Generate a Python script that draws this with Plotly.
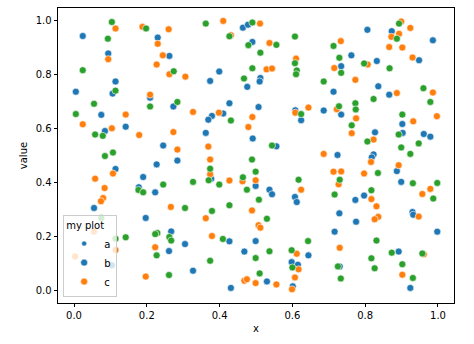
import plotly.graph_objects as go

blue_x = [0.024,0.230,0.094,0.262,0.114,0.005,0.106,0.209,0.273,0.075,0.142,0.085,0.245,
          0.464,0.478,0.490,0.399,0.374,0.512,0.510,0.476,0.427,0.507,0.410,0.379,0.369,0.608,0.624,0.686,0.362,0.491,0.556,
          0.806,0.873,0.986,0.762,0.948,0.832,0.734,0.836,0.713,0.866,0.734,0.902,0.827,0.903,0.961,0.979,0.724,0.823,0.818,
          0.284,0.227,0.114,0.190,0.178,0.223,0.055,0.197,0.267,0.305,0.261,0.104,
          0.377,0.499,0.537,0.544,0.607,0.612,0.427,0.499,0.468,0.644,0.598,0.615,0.327,0.530,0.601,0.431,
          0.887,0.899,0.797,0.773,0.729,0.930,0.932,0.775,0.716,0.998,0.892,0.730,0.924]
blue_y = [0.944,0.938,0.879,0.870,0.775,0.737,0.730,0.715,0.682,0.651,0.607,0.591,0.537,
          0.975,0.986,0.922,0.812,0.777,0.788,0.775,0.755,0.694,0.680,0.656,0.647,0.633,0.668,0.631,0.667,0.584,0.563,0.534,
          0.967,0.962,0.928,0.872,0.854,0.851,0.832,0.757,0.737,0.726,0.652,0.617,0.586,0.584,0.580,0.570,0.502,0.504,0.493,
          0.481,0.467,0.450,0.420,0.382,0.363,0.305,0.268,0.218,0.171,0.145,0.092,
          0.414,0.387,0.373,0.356,0.346,0.327,0.181,0.182,0.143,0.129,0.104,0.094,0.072,0.032,0.014,0.008,
          0.442,0.402,0.351,0.335,0.285,0.290,0.280,0.254,0.217,0.217,0.143,0.088,0.008]

orange_x = [0.114,0.188,0.260,0.230,0.094,0.244,0.227,0.262,0.306,0.209,0.142,0.327,0.024,0.104,0.273,0.179,0.284,
            0.410,0.511,0.431,0.537,0.610,0.529,0.544,0.398,0.490,0.479,0.608,0.644,0.369,0.686,
            0.899,0.924,0.872,0.893,0.733,0.866,0.902,0.930,0.807,0.715,0.773,0.887,0.986,0.722,0.775,0.932,0.997,0.763,0.823,0.816,
            0.107,0.058,0.084,0.080,0.074,0.266,0.055,0.223,0.114,0.003,0.197,
            0.374,0.374,0.427,0.463,0.499,0.624,0.489,0.362,0.507,0.512,0.379,0.612,0.617,0.607,0.468,0.475,0.499,0.556,0.599,
            0.713,0.734,0.727,0.797,0.892,0.979,0.957,0.817,0.831,0.836,0.826,0.947,0.730,0.961,0.902]
orange_y = [0.972,0.978,0.969,0.915,0.858,0.872,0.838,0.802,0.793,0.726,0.652,0.662,0.616,0.601,0.587,0.576,0.522,
            1.000,0.990,0.947,0.918,0.860,0.820,0.823,0.659,0.643,0.606,0.659,0.678,0.533,0.506,
            0.998,0.974,0.941,0.952,0.925,0.903,0.901,0.864,0.838,0.825,0.781,0.732,0.734,0.672,0.638,0.627,0.646,0.583,0.559,0.476,
            0.433,0.414,0.379,0.342,0.330,0.309,0.218,0.159,0.149,0.125,0.050,
            0.485,0.430,0.407,0.404,0.408,0.373,0.296,0.267,0.241,0.232,0.201,0.135,0.077,0.047,0.035,0.040,0.026,0.021,0.003,
            0.440,0.441,0.393,0.433,0.464,0.376,0.357,0.338,0.311,0.272,0.263,0.273,0.157,0.133,0.057]

green_x = [0.104,0.198,0.093,0.024,0.274,0.114,0.055,0.284,0.209,0.005,0.058,0.079,0.107,0.085,
           0.362,0.490,0.427,0.479,0.556,0.607,0.512,0.607,0.490,0.612,0.610,0.467,0.686,0.431,0.624,0.544,
           0.893,0.887,0.713,0.729,0.797,0.867,0.734,0.960,0.823,0.979,0.773,0.728,0.774,0.902,0.763,0.892,0.806,0.947,0.899,0.924,
           0.245,0.177,0.190,0.305,0.075,0.229,0.223,0.262,0.267,0.114,0.142,0.227,0.261,
           0.489,0.374,0.327,0.370,0.399,0.464,0.499,0.475,0.617,0.508,0.427,0.379,0.530,0.409,0.643,0.537,0.598,0.499,0.600,0.374,0.510,
           0.730,0.835,0.931,0.998,0.987,0.716,0.817,0.831,0.873,0.957,0.817,0.902,0.725,0.826,0.733,0.931]
green_y = [0.996,0.972,0.934,0.817,0.813,0.741,0.692,0.699,0.682,0.654,0.578,0.573,0.511,0.498,
           0.990,0.994,0.943,0.910,0.911,0.942,0.882,0.843,0.824,0.816,0.802,0.786,0.775,0.630,0.654,0.537,
           0.990,0.934,0.907,0.863,0.842,0.824,0.807,0.750,0.710,0.699,0.694,0.683,0.671,0.652,0.612,0.578,0.552,0.545,0.530,0.506,
           0.392,0.372,0.363,0.305,0.268,0.212,0.208,0.197,0.184,0.191,0.196,0.129,0.056,
           0.485,0.451,0.402,0.408,0.392,0.419,0.440,0.373,0.410,0.336,0.315,0.294,0.265,0.190,0.182,0.144,0.148,0.119,0.084,0.109,0.062,
           0.410,0.435,0.397,0.398,0.340,0.355,0.371,0.184,0.139,0.136,0.118,0.096,0.088,0.081,0.043,0.045]

legend_labels = ["a", "b", "c"]
tick_vals = [0.0, 0.2, 0.4, 0.6, 0.8, 1.0]
tick_text = ["0.0", "0.2", "0.4", "0.6", "0.8", "1.0"]

BLUE = "#1f77b4"
ORANGE = "#ff7f0e"
GREEN = "#2ca02c"
FONT = "DejaVu Sans"

fig = go.Figure()
mk = dict(size=7, line=dict(color="white", width=0.6))

# legend-only entry "a"
fig.add_trace(go.Scatter(x=[None], y=[None], mode="markers", name=legend_labels[0],
                         marker=dict(color=BLUE, size=5, line=dict(color="white", width=0.5))))
fig.add_trace(go.Scatter(x=blue_x, y=blue_y, mode="markers", name=legend_labels[1],
                         marker=dict(color=BLUE, **mk)))
fig.add_trace(go.Scatter(x=orange_x, y=orange_y, mode="markers", name=legend_labels[2],
                         marker=dict(color=ORANGE, **mk)))
fig.add_trace(go.Scatter(x=green_x, y=green_y, mode="markers", showlegend=False,
                         marker=dict(color=GREEN, **mk)))

axis_common = dict(showline=True, mirror=True, linecolor="black", linewidth=0.8,
                   ticks="outside", ticklen=3.5, tickwidth=0.8, tickcolor="black",
                   showgrid=False, zeroline=False,
                   tickfont=dict(family=FONT, size=10, color="black"),
                   tickvals=tick_vals, ticktext=tick_text)

fig.update_layout(
    width=474, height=344,
    margin=dict(l=58, r=20, t=8, b=41),
    paper_bgcolor="white", plot_bgcolor="white",
    font=dict(family=FONT, size=10, color="black"),
    xaxis=dict(range=[-0.044, 1.044], title=dict(text="x", font=dict(family=FONT, size=10), standoff=4),
               **axis_common),
    yaxis=dict(range=[-0.048, 1.048], title=dict(text="value", font=dict(family=FONT, size=10), standoff=6),
               **axis_common),
    legend=dict(x=0.013, y=0.02, xanchor="left", yanchor="bottom",
                bgcolor="rgba(255,255,255,0.8)", bordercolor="#cccccc", borderwidth=1,
                title=dict(text="my plot", font=dict(family=FONT, size=10)),
                font=dict(family=FONT, size=10), tracegroupgap=0, itemsizing="trace"),
)

fig.write_html("out.html")
